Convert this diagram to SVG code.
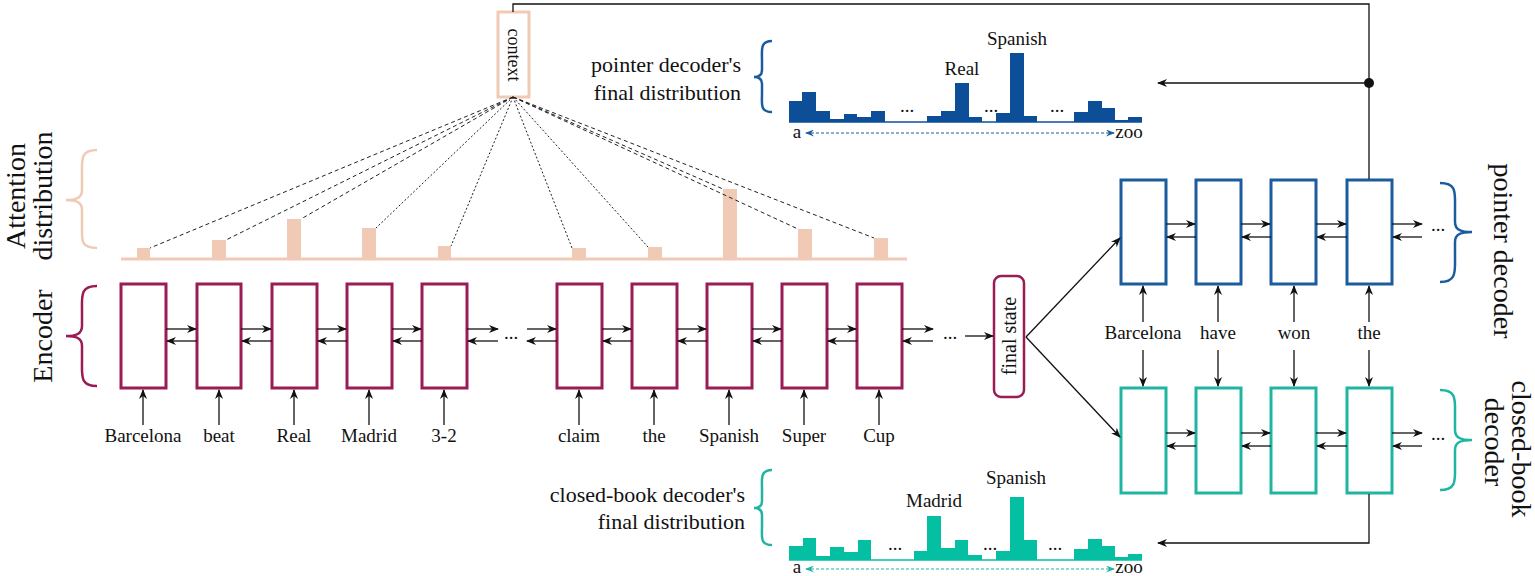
<svg xmlns="http://www.w3.org/2000/svg" width="1535" height="576" viewBox="0 0 1535 576" font-family="'Liberation Serif','Times New Roman','DejaVu Serif',serif">
<style>
text{font-family:"Liberation Serif","Times New Roman","DejaVu Serif",serif;fill:#111}
.w{font-size:19px;text-anchor:middle}
.big{font-size:28px;text-anchor:middle}
.enc{fill:#fff;stroke:#9b1b54;stroke-width:3}
.pd{fill:#fff;stroke:#1b5c9e;stroke-width:3}
.cb{fill:#fff;stroke:#20b5a3;stroke-width:3}
.ln{stroke:#111;stroke-width:1.3;fill:none}
.arr{stroke:#111;stroke-width:1.3;fill:none;marker-end:url(#ah)}
.att{fill:#f0cab5}
.pb{fill:#0c4f98}
.cbb{fill:#05bfa2}
.dsh{stroke:#222;stroke-width:1;stroke-dasharray:4 3}
.dot{stroke:#222;stroke-width:1;stroke-dasharray:2 2}
.brace{fill:none;stroke-width:2.5}
</style>
<defs>
<marker id="ah" markerWidth="10" markerHeight="8" refX="9" refY="4" orient="auto" markerUnits="userSpaceOnUse">
<path d="M0,0 L10,4 L0,8 L3,4 z" fill="#111"/>
</marker>
<marker id="ahb" markerWidth="9" markerHeight="7" refX="8" refY="3.5" orient="auto-start-reverse" markerUnits="userSpaceOnUse">
<path d="M0,0 L9,3.5 L0,7 L3,3.5 z" fill="#1b5c9e"/>
</marker>
<marker id="aht" markerWidth="9" markerHeight="7" refX="8" refY="3.5" orient="auto-start-reverse" markerUnits="userSpaceOnUse">
<path d="M0,0 L9,3.5 L0,7 L3,3.5 z" fill="#20b5a3"/>
</marker>
</defs>

<g id="attention-label">
<path class="brace" stroke="#f0cab5" d="M97,150 C80,150 82,160 82,175 L82,190 C82,198 76,200 66,200 C76,200 82,202 82,210 L82,225 C82,240 80,248 97,248"/>
<text class="big" transform="translate(25,196) rotate(-90)">Attention</text>
<text class="big" transform="translate(52,196) rotate(-90)">distribution</text>
</g>
<g id="encoder-label">
<path class="brace" stroke="#9b1b54" d="M97,286 C80,286 82,296 82,311 L82,326 C82,334 76,336 66,336 C76,336 82,338 82,346 L82,361 C82,376 80,386 97,386"/>
<text class="big" transform="translate(52,336) rotate(-90)">Encoder</text>
</g>

<g id="attention">
<line x1="121" y1="259" x2="907" y2="259" stroke="#f0cab5" stroke-width="3"/>
<rect class="att" x="137" y="248" width="13" height="11"/>
<rect class="att" x="212" y="240" width="14" height="19"/>
<rect class="att" x="287" y="219" width="14" height="40"/>
<rect class="att" x="362" y="228" width="14" height="31"/>
<rect class="att" x="438" y="246" width="13" height="13"/>
<rect class="att" x="572" y="248" width="14" height="11"/>
<rect class="att" x="648" y="247" width="14" height="12"/>
<rect class="att" x="723" y="189" width="14" height="70"/>
<rect class="att" x="798" y="229" width="14" height="30"/>
<rect class="att" x="874" y="238" width="14" height="21"/>
</g>

<g id="context">
<rect x="498" y="12" width="31" height="85" fill="#fff" stroke="#f0cab5" stroke-width="3"/>
<text transform="translate(508,55) rotate(90)" style="font-size:18px;text-anchor:middle">context</text>
</g>

<g id="enc-1"><rect class="enc" x="121" y="284" width="45" height="104"/></g>
<g id="enc-2"><rect class="enc" x="197" y="284" width="44" height="104"/></g>
<g id="enc-3"><rect class="enc" x="272" y="284" width="45" height="104"/></g>
<g id="enc-4"><rect class="enc" x="347" y="284" width="45" height="104"/></g>
<g id="enc-5"><rect class="enc" x="422" y="284" width="45" height="104"/></g>
<g id="enc-6"><rect class="enc" x="557" y="284" width="45" height="104"/></g>
<g id="enc-7"><rect class="enc" x="632" y="284" width="45" height="104"/></g>
<g id="enc-8"><rect class="enc" x="707" y="284" width="45" height="104"/></g>
<g id="enc-9"><rect class="enc" x="782" y="284" width="45" height="104"/></g>
<g id="enc-10"><rect class="enc" x="857" y="284" width="45" height="104"/></g>

<g id="final-state">
<rect x="994" y="276" width="30" height="121" rx="7" fill="#fff" stroke="#9b1b54" stroke-width="2.5"/>
<text transform="translate(1016,336) rotate(-90)" style="font-size:20px;text-anchor:middle">final state</text>
</g>

<g id="pd-1"><rect class="pd" x="1121" y="180" width="45" height="104"/></g>
<g id="pd-2"><rect class="pd" x="1196" y="180" width="45" height="104"/></g>
<g id="pd-3"><rect class="pd" x="1271" y="180" width="45" height="104"/></g>
<g id="pd-4"><rect class="pd" x="1347" y="180" width="45" height="104"/></g>
<g id="cb-1"><rect class="cb" x="1121" y="388" width="45" height="105"/></g>
<g id="cb-2"><rect class="cb" x="1196" y="388" width="45" height="105"/></g>
<g id="cb-3"><rect class="cb" x="1271" y="388" width="45" height="105"/></g>
<g id="cb-4"><rect class="cb" x="1347" y="388" width="45" height="105"/></g>

<g id="pointer-label">
<path class="brace" stroke="#1b5c9e" d="M1440,183 C1457,183 1455,193 1455,208 L1455,222 C1455,230 1461,232 1472,232 C1461,232 1455,234 1455,242 L1455,256 C1455,271 1457,282 1440,282"/>
<text class="big" transform="translate(1494,251) rotate(90)">pointer decoder</text>
</g>
<g id="closed-label">
<path class="brace" stroke="#20b5a3" d="M1440,390 C1457,390 1455,400 1455,415 L1455,430 C1455,438 1461,440 1472,440 C1461,440 1455,442 1455,450 L1455,465 C1455,480 1457,490 1440,490"/>
<text class="big" transform="translate(1512,449) rotate(90)">closed-book</text>
<text class="big" transform="translate(1485,442) rotate(90)">decoder</text>
</g>

<g id="pointer-dist">
<text transform="translate(741,72)" style="font-size:22px;text-anchor:end">pointer decoder's</text>
<text transform="translate(741,100)" style="font-size:22px;text-anchor:end">final distribution</text>
<path class="brace" stroke="#1b5c9e" d="M772,41 C760,41 762,50 762,60 L762,70 C762,75 759,77 754,77 C759,77 762,79 762,84 L762,94 C762,104 760,112 772,112"/>
<line x1="789" y1="122" x2="1142" y2="122" stroke="#0c4f98" stroke-width="1.5"/>
<path class="pb" d="M789,122 V101 H802 V92 H816 V111 H830 V119 H844 V114 H857 V117 H871 V111 H885 V122 Z"/>
<path class="pb" d="M927,122 V116 H941 V111 H955 V83 H969 V117 H982 V122 Z"/>
<path class="pb" d="M996,122 V113 H1010 V53 H1024 V116 H1037 V122 Z"/>
<path class="pb" d="M1074,122 V112 H1088 V101 H1102 V108 H1115 V120 H1128 V117 H1142 V122 Z"/>
<text class="w" x="907" y="112">...</text>
<text class="w" x="991" y="112">...</text>
<text class="w" x="1057" y="112">...</text>
<text class="w" x="962" y="75">Real</text>
<text class="w" x="1017" y="45">Spanish</text>
<text class="w" x="797" y="138">a</text>
<text class="w" x="1129" y="138">zoo</text>
<line x1="806" y1="133" x2="1114" y2="133" stroke="#1b5c9e" stroke-width="1" stroke-dasharray="3 2" marker-start="url(#ahb)" marker-end="url(#ahb)"/>
</g>

<g id="closed-dist">
<text transform="translate(745,502)" style="font-size:22px;text-anchor:end">closed-book decoder's</text>
<text transform="translate(745,529)" style="font-size:22px;text-anchor:end">final distribution</text>
<path class="brace" stroke="#20b5a3" d="M772,470 C760,470 762,479 762,489 L762,501 C762,506 759,508 754,508 C759,508 762,510 762,515 L762,527 C762,537 760,545 772,545"/>
<line x1="789" y1="560" x2="1142" y2="560" stroke="#05bfa2" stroke-width="1.5"/>
<path class="cbb" d="M789,560 V546 H803 V538 H816 V556 H830 V547 H844 V552 H858 V540 H871 V560 Z"/>
<path class="cbb" d="M914,560 V551 H927 V516 H941 V548 H955 V540 H968 V555 H982 V560 Z"/>
<path class="cbb" d="M996,560 V551 H1010 V497 H1024 V540 H1037 V560 Z"/>
<path class="cbb" d="M1074,560 V549 H1088 V539 H1102 V546 H1115 V557 H1128 V554 H1142 V560 Z"/>
<text class="w" x="895" y="550">...</text>
<text class="w" x="990" y="550">...</text>
<text class="w" x="1055" y="550">...</text>
<text class="w" x="934" y="507">Madrid</text>
<text class="w" x="1016" y="484">Spanish</text>
<text class="w" x="797" y="573">a</text>
<text class="w" x="1129" y="573">zoo</text>
<line x1="806" y1="569" x2="1114" y2="569" stroke="#20b5a3" stroke-width="1" stroke-dasharray="3 2" marker-start="url(#aht)" marker-end="url(#aht)"/>
</g>

<g id="enc-words">
<text class="w" x="143" y="442">Barcelona</text>
<text class="w" x="219" y="442">beat</text>
<text class="w" x="294" y="442">Real</text>
<text class="w" x="369" y="442">Madrid</text>
<text class="w" x="444" y="442">3-2</text>
<text class="w" x="579" y="442">claim</text>
<text class="w" x="654" y="442">the</text>
<text class="w" x="729" y="442">Spanish</text>
<text class="w" x="804" y="442">Super</text>
<text class="w" x="879" y="442">Cup</text>
<text class="w" x="511" y="339">...</text>
<text class="w" x="950" y="339">...</text>
</g>
<g id="dec-words">
<text class="w" x="1143" y="339">Barcelona</text>
<text class="w" x="1218" y="339">have</text>
<text class="w" x="1294" y="339">won</text>
<text class="w" x="1369" y="339">the</text>
<text class="w" x="1438" y="231">...</text>
<text class="w" x="1438" y="440">...</text>
</g>

<g id="connectors">
<line class="dsh" x1="513" y1="97" x2="150" y2="248"/>
<line class="dsh" x1="513" y1="97" x2="226" y2="240"/>
<line class="dsh" x1="513" y1="97" x2="301" y2="219"/>
<line class="dot" x1="513" y1="97" x2="376" y2="228"/>
<line class="dot" x1="513" y1="97" x2="451" y2="246"/>
<line class="dot" x1="513" y1="97" x2="572" y2="248"/>
<line class="dot" x1="513" y1="97" x2="648" y2="247"/>
<line class="dsh" x1="513" y1="97" x2="723" y2="189"/>
<line class="dsh" x1="513" y1="97" x2="798" y2="229"/>
<line class="dsh" x1="513" y1="97" x2="874" y2="238"/>
<path class="arr" d="M166,329 H196"/><path class="arr" d="M197,341 H167"/>
<path class="arr" d="M241,329 H271"/><path class="arr" d="M272,341 H242"/>
<path class="arr" d="M317,329 H346"/><path class="arr" d="M347,341 H318"/>
<path class="arr" d="M392,329 H421"/><path class="arr" d="M422,341 H393"/>
<path class="arr" d="M467,329 H498"/><path class="arr" d="M498,341 H468"/>
<path class="arr" d="M527,329 H556"/><path class="arr" d="M557,341 H527"/>
<path class="arr" d="M602,329 H631"/><path class="arr" d="M632,341 H603"/>
<path class="arr" d="M677,329 H706"/><path class="arr" d="M707,341 H678"/>
<path class="arr" d="M752,329 H781"/><path class="arr" d="M782,341 H753"/>
<path class="arr" d="M827,329 H856"/><path class="arr" d="M857,341 H828"/>
<path class="arr" d="M902,329 H933"/><path class="arr" d="M933,341 H903"/>
<path class="arr" d="M965,336 H993"/>
<path class="arr" d="M143,425 V390"/><path class="arr" d="M219,425 V390"/>
<path class="arr" d="M294,425 V390"/><path class="arr" d="M369,425 V390"/>
<path class="arr" d="M444,425 V390"/><path class="arr" d="M579,425 V390"/>
<path class="arr" d="M654,425 V390"/><path class="arr" d="M729,425 V390"/>
<path class="arr" d="M804,425 V390"/><path class="arr" d="M879,425 V390"/>
<path class="arr" d="M1026,337 L1120,238"/>
<path class="arr" d="M1026,337 L1120,437"/>
<path class="arr" d="M1166,224 H1195"/><path class="arr" d="M1196,237 H1167"/>
<path class="arr" d="M1241,224 H1270"/><path class="arr" d="M1271,237 H1242"/>
<path class="arr" d="M1316,224 H1346"/><path class="arr" d="M1347,237 H1317"/>
<path class="arr" d="M1392,224 H1422"/><path class="arr" d="M1422,237 H1393"/>
<path class="arr" d="M1166,433 H1195"/><path class="arr" d="M1196,446 H1167"/>
<path class="arr" d="M1241,433 H1270"/><path class="arr" d="M1271,446 H1242"/>
<path class="arr" d="M1316,433 H1346"/><path class="arr" d="M1347,446 H1317"/>
<path class="arr" d="M1392,433 H1422"/><path class="arr" d="M1422,446 H1393"/>
<path class="arr" d="M1143,322 V286"/><path class="arr" d="M1218,322 V286"/>
<path class="arr" d="M1294,322 V286"/><path class="arr" d="M1369,322 V286"/>
<path class="arr" d="M1143,350 V386"/><path class="arr" d="M1218,350 V386"/>
<path class="arr" d="M1294,350 V386"/><path class="arr" d="M1369,350 V386"/>
<path class="ln" d="M513,12 V4 H1369 V179"/>
<circle cx="1369" cy="83" r="5" fill="#111"/>
<path class="arr" d="M1369,83 H1158"/>
<path class="arr" d="M1369,494 V543 H1158"/>
</g>
</svg>
